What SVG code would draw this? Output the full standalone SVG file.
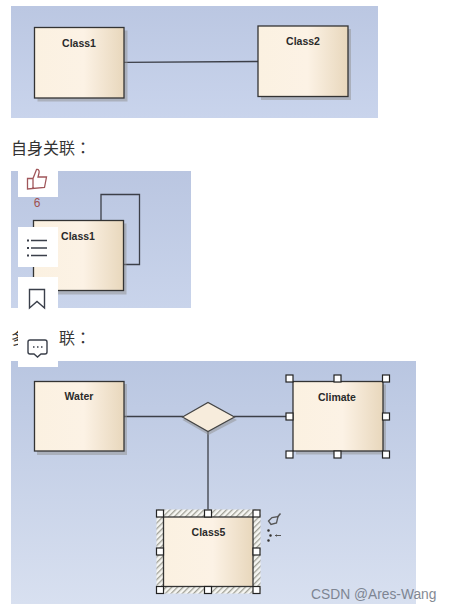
<svg xmlns="http://www.w3.org/2000/svg" width="451" height="611" viewBox="0 0 451 611">
<style>
.box{fill:url(#boxg);stroke:#333;stroke-width:1.3}
.sh{fill:#8f8f8f;opacity:.5}
.lbl{font:bold 10.5px "Liberation Sans",Arial,sans-serif;fill:#2a2a2a;text-anchor:middle}
.conn{fill:none;stroke:#3c3f48;stroke-width:1.3}
.h{fill:#fff;stroke:#222;stroke-width:1.2}
.cn{font:16px "Noto Sans CJK TC","Noto Sans",sans-serif;fill:#333}
.ic{fill:none;stroke:#3a3f4a;stroke-width:1.4}
.pn{fill:#fff}
</style>
<defs>
<linearGradient id="boxg" x1="0" x2="1" y1="0" y2="0"><stop offset="0" stop-color="#fbf1e1"/><stop offset=".55" stop-color="#fcf2e5"/><stop offset="1" stop-color="#e8d7bc"/></linearGradient>
<linearGradient id="bg1" x1="0" x2="0" y1="0" y2="1"><stop offset="0" stop-color="#bbc7e2"/><stop offset="1" stop-color="#c9d4ec"/></linearGradient>
<linearGradient id="bg2" x1="0" x2="0" y1="0" y2="1"><stop offset="0" stop-color="#bac6e1"/><stop offset="1" stop-color="#c9d4eb"/></linearGradient>
<linearGradient id="bg3" x1="0" x2="0" y1="0" y2="1"><stop offset="0" stop-color="#b9c6e1"/><stop offset="1" stop-color="#d8e0f0"/></linearGradient>
<pattern id="hatch" width="4" height="4" patternUnits="userSpaceOnUse" patternTransform="rotate(-45)"><rect width="4" height="4" fill="#f6f6f2"/><rect width="4" height="1.3" fill="#a0a096"/></pattern>
</defs>

<g id="backgrounds">
<rect x="11" y="6" width="367" height="112" fill="url(#bg1)"/>
<rect x="11" y="171" width="180" height="137" fill="url(#bg2)"/>
<rect x="11" y="361" width="405" height="243" fill="url(#bg3)"/>
</g>

<g id="connectors">
<path class="conn" d="M124 62.300L258 61.500"/>
<path class="conn" d="M101 221V194.500H139.500V264.500H123"/>
<path class="conn" d="M124 416.500H183M234 416.500H290"/>
<path class="conn" d="M208 432V511"/>
</g>

<g id="node-class1"><rect class="sh" x="37.500" y="30.500" width="90" height="71"/><rect class="box" x="34.500" y="27.500" width="89.500" height="70.500"/><text class="lbl" x="79" y="47">Class1</text></g>
<g id="node-class2"><rect class="sh" x="261" y="29" width="90" height="71"/><rect class="box" x="258" y="26" width="90" height="70.500"/><text class="lbl" x="303" y="45">Class2</text></g>

<text class="cn" x="11" y="153.500">自身关联：</text>

<g id="node-self-class1"><rect class="sh" x="36.500" y="223.500" width="90" height="71"/><rect class="box" x="33.500" y="220.500" width="90" height="70"/><text class="lbl" x="78" y="239.500">Class1</text></g>

<text class="cn" x="11" y="344">多</text>
<text class="cn" x="59" y="344">联：</text>

<g id="node-water"><rect class="sh" x="37" y="384" width="90" height="71"/><rect class="box" x="34.500" y="381.500" width="89.500" height="69.500"/><text class="lbl" x="79" y="400">Water</text></g>

<g id="node-diamond"><path d="M182.500 420L208.500 405L237 420L208.500 435Z" fill="#8f8f8f" opacity=".5"/><path d="M182.500 417L208 402.500L234.500 417L208 431.500Z" fill="#f7ecdc" stroke="#444" stroke-width="1.200"/></g>

<g id="node-climate"><rect class="sh" x="296" y="384.500" width="90" height="70"/><rect class="box" x="293" y="381.500" width="90" height="69.500"/><text class="lbl" x="337" y="400.500">Climate</text>
<rect class="h" x="286" y="375" width="7" height="7"/><rect class="h" x="334" y="375" width="7" height="7"/><rect class="h" x="382.500" y="375" width="7" height="7"/><rect class="h" x="286" y="413" width="7" height="7"/><rect class="h" x="382.500" y="413" width="7" height="7"/><rect class="h" x="286" y="451" width="7" height="7"/><rect class="h" x="334" y="451" width="7" height="7"/><rect class="h" x="382.500" y="451" width="7" height="7"/></g>

<g id="node-class5"><rect x="156.500" y="509.500" width="104" height="84" fill="url(#hatch)"/><rect class="box" x="163.500" y="517" width="89.500" height="69.500"/><text class="lbl" x="208.500" y="535.500">Class5</text>
<rect class="h" x="156.500" y="510" width="7" height="7"/><rect class="h" x="204.500" y="510" width="7" height="7"/><rect class="h" x="253" y="510" width="7" height="7"/><rect class="h" x="156.500" y="548" width="7" height="7"/><rect class="h" x="253" y="548" width="7" height="7"/><rect class="h" x="156.500" y="586.500" width="7" height="7"/><rect class="h" x="204.500" y="586.500" width="7" height="7"/><rect class="h" x="253" y="586.500" width="7" height="7"/></g>

<g id="quicklinks" fill="none" stroke="#555" stroke-width="1">
<path d="M268.500 521L272 517.500L278 516.500L276.500 523L271 524.500Z" stroke-width="1.300"/><path d="M277.500 517L280.500 513.500" stroke-width="1.500"/>
<circle cx="268.500" cy="530.500" r="1" fill="#333"/><circle cx="270.500" cy="535.500" r="1" fill="#333"/><circle cx="268.500" cy="540.500" r="1" fill="#333"/><path d="M275 535.500H281M276.500 534.500V536.500"/>
</g>

<g id="toolbar">
<rect class="pn" x="18" y="168" width="40" height="29"/>
<path d="M27.500 178.500H33L36.500 169.500C39 169 39.500 171.500 39 173L38 177H46.500L44.500 187.500L27.500 189ZM33 178.500V188.500" fill="none" stroke="#a0565a" stroke-width="1.300"/>
<text x="37" y="206.500" font-family="'Liberation Sans',Arial,sans-serif" font-size="12" fill="#a0504f" text-anchor="middle">6</text>
<rect class="pn" x="18" y="227" width="40" height="40"/>
<path class="ic" d="M31 240.500H47M31 248H47M31 255.500H47"/><path d="M27 240.500H29M27 248H29M27 255.500H29" stroke="#3a3f4a" stroke-width="1.800"/>
<rect class="pn" x="18" y="277" width="40" height="40"/>
<path class="ic" d="M29.500 289.500H44.500V308L37 301.500L29.500 308Z"/>
<rect class="pn" x="18" y="327" width="40" height="40"/>
<path class="ic" d="M30 340H45Q47 340 47 342V352Q47 354 45 354H41L37.500 357L34 354H30Q28 354 28 352V342Q28 340 30 340Z"/>
<path d="M33 347H34.500M37 347H38.500M41 347H42.500" stroke="#3a3f4a" stroke-width="1.600"/>
</g>

<text x="311" y="599" font-family="'Liberation Sans',Arial,sans-serif" font-size="13.800" fill="#6f7683" opacity=".85">CSDN @Ares-Wang</text>
</svg>
